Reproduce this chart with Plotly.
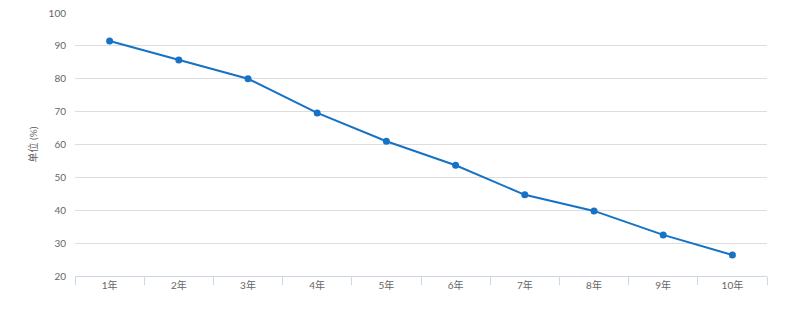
import plotly.graph_objects as go

categories = ["1年", "2年", "3年", "4年", "5年", "6年", "7年", "8年", "9年", "10年"]
values = [91.5, 85.7, 80.0, 69.6, 61.0, 53.7, 44.7, 39.8, 32.5, 26.4]
y_ticks = [20, 30, 40, 50, 60, 70, 80, 90, 100]

fig = go.Figure()
fig.add_trace(go.Scatter(
    x=categories, y=values, mode="lines+markers",
    line=dict(color="#1672c4", width=2),
    marker=dict(color="#1672c4", size=7),
    hoverinfo="x+y", showlegend=False,
))

fig.update_layout(
    width=800, height=320,
    margin=dict(l=75, r=33, t=13, b=44),
    paper_bgcolor="white", plot_bgcolor="white",
    font=dict(family="Lato, 'Noto Sans CJK SC', sans-serif", size=10, color="#666666"),
    xaxis=dict(
        type="category", tickson="boundaries", ticks="outside", ticklen=8,
        tickcolor="#ccd6eb", showline=True, linecolor="#ccd6eb", linewidth=1,
        showgrid=False, range=[-0.5, 9.5], tickfont=dict(size=10, color="#666666"),
        automargin=False,
    ),
    yaxis=dict(
        range=[20, 100], tickvals=y_ticks, showgrid=True, gridcolor="#dddddd",
        gridwidth=1, zeroline=False, showline=False, ticks="",
        tickfont=dict(size=10, color="#666666"), ticklabelstandoff=8,
        title=dict(text="单位 (%)", font=dict(size=10, color="#666666"), standoff=9),
        automargin=False,
    ),
)

fig.write_html("out.html")
